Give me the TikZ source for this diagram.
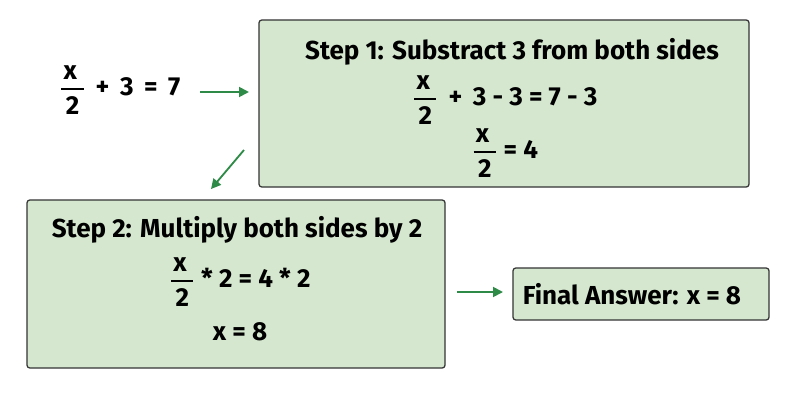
\documentclass[tikz,border=0pt]{standalone}
\usepackage{amsmath}
\usepackage{fontspec}
\setmainfont{Fira Sans}
\usetikzlibrary{arrows.meta}
\definecolor{boxfill}{HTML}{D5E8CF}
\definecolor{arrowgreen}{HTML}{2E8B47}
\newcommand{\fr}[2]{$\genfrac{}{}{1.5pt}{0}{\mbox{#1\,}}{\mbox{\,#2\,}}$}
\tikzset{
    stepbox/.style={draw=black!80, fill=boxfill, rounded corners=2pt, line width=0.9pt},
    txt/.style={font=\fontsize{18.5}{21}\selectfont\bfseries, inner sep=0pt},
    link/.style={draw=arrowgreen, line width=1.3pt, -{Triangle[length=7pt,width=7pt]}}
}
\begin{document}
\begin{tikzpicture}
  [
    x = 0.025cm,
    y = -0.025cm,
  ]
  \useasboundingbox (0,0) rectangle (800,400);
  % boxes
  \draw [stepbox] (259,20) rectangle (749,187);
  \draw [stepbox] (27,200) rectangle (445,368);
  \draw [stepbox] (513,268) rectangle (769,320);
  % texts
  \node [txt] (start) at (120,90) {\fr{x}{2}\, + \,3\, = \,7};
  \node [txt] (title1) at (512,52) {Step 1: Substract 3 from both sides};
  \node [txt] (eq1a) at (505,100) {\fr{x}{2}\, + \,3 - 3 = 7 - 3};
  \node [txt] (eq1b) at (505,153) {\fr{x}{2} = 4};
  \node [txt] (title2) at (237,230) {Step 2: Multiply both sides by 2};
  \node [txt] (eq2a) at (240,282) {\fr{x}{2} * 2 = 4 * 2};
  \node [txt] (eq2b) at (240,332) {x = 8};
  \node [txt] (final) at (632,294) {Final Answer: x = 8};
  % arrows
  \coordinate (a1) at (200,92);
  \coordinate (b1) at (249,92);
  \coordinate (a2) at (244,150);
  \coordinate (b2) at (211,189);
  \coordinate (a3) at (457,292);
  \coordinate (b3) at (503,292);
  \draw [link] (a1) -- (b1);
  \draw [link] (a2) -- (b2);
  \draw [link] (a3) -- (b3);
\end{tikzpicture}
\end{document}
